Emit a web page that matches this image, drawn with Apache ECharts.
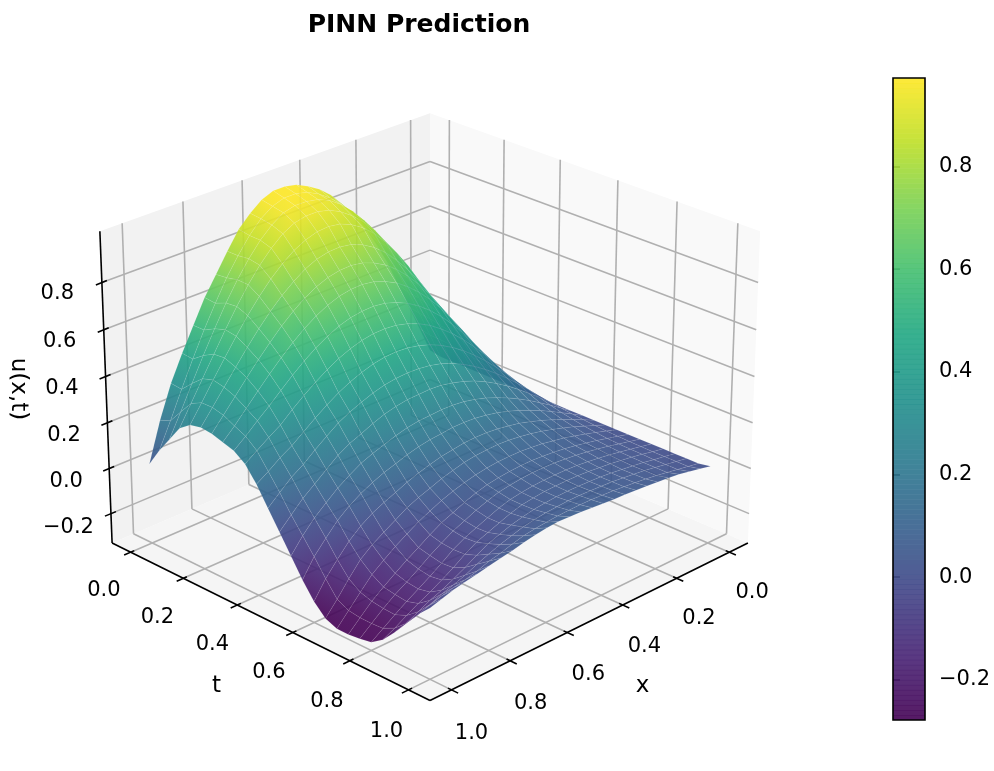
<!DOCTYPE html>
<html><head><meta charset="utf-8"><style>html,body{margin:0;background:#fff}#c{width:994px;height:771px}</style>
<script src="https://cdn.jsdelivr.net/npm/echarts@6/dist/echarts.min.js"></script></head><body><div id="c"></div>
<script>
const xValues=[0,.04,.08,.12,.16,.2,.24,.28,.32,.36,.4,.44,.48,.52,.56,.6,.64,.68,.72,.76,.8,.84,.88,.92,.96,1];
const tValues=[0,.04,.08,.12,.16,.2,.24,.28,.32,.36,.4,.44,.48,.52,.56,.6,.64,.68,.72,.76,.8,.84,.88,.92,.96,1];
const uRows=[
[.01,.13,.25,.37,.49,.59,.68,.755,.82,.877,.92,.95,.975,.985,.985,.965,.925,.875,.80,.72,.64,.54,.44,.33,.19,.02],
[0,.12,.239,.353,.463,.56,.645,.725,.795,.853,.90,.935,.96,.972,.972,.955,.92,.867,.80,.725,.635,.54,.435,.325,.209,.10],
[0,.118,.234,.346,.454,.55,.635,.715,.785,.843,.89,.925,.947,.957,.958,.945,.912,.866,.806,.735,.655,.565,.47,.37,.268,.17],
[0,.113,.224,.331,.435,.528,.612,.69,.76,.815,.86,.895,.92,.932,.932,.92,.893,.85,.797,.733,.66,.58,.496,.411,.325,.24],
[0,.106,.212,.313,.411,.502,.586,.661,.726,.782,.826,.858,.879,.887,.883,.867,.841,.803,.758,.703,.641,.573,.5,.426,.349,.275],
[0,.098,.194,.287,.377,.461,.538,.607,.667,.719,.76,.79,.81,.818,.816,.804,.781,.747,.707,.659,.605,.545,.481,.416,.35,.285],
[0,.09,.179,.265,.348,.425,.497,.561,.617,.665,.703,.731,.75,.758,.756,.745,.725,.696,.659,.616,.566,.513,.456,.397,.338,.28],
[0,.083,.164,.243,.319,.39,.456,.515,.566,.609,.645,.67,.688,.696,.694,.684,.665,.639,.606,.566,.521,.472,.42,.367,.313,.265],
[0,.074,.147,.217,.285,.349,.407,.46,.506,.545,.576,.599,.615,.622,.62,.612,.596,.572,.543,.507,.467,.423,.377,.335,.29,.25],
[0,.065,.129,.191,.252,.307,.359,.405,.445,.48,.507,.527,.54,.545,.544,.535,.519,.498,.47,.437,.401,.361,.317,.285,.25,.215],
[0,.056,.112,.166,.217,.266,.31,.35,.384,.413,.436,.452,.462,.466,.463,.454,.438,.418,.392,.361,.326,.288,.25,.22,.183,.15],
[0,.049,.097,.144,.188,.229,.267,.301,.33,.355,.374,.386,.393,.395,.392,.384,.37,.352,.331,.305,.269,.232,.191,.158,.115,.07],
[0,.041,.082,.121,.159,.194,.226,.254,.278,.297,.311,.321,.325,.323,.321,.312,.30,.281,.259,.238,.209,.17,.129,.09,.041,-.01],
[0,.034,.067,.099,.13,.158,.183,.205,.224,.239,.25,.255,.256,.253,.25,.242,.229,.212,.195,.175,.145,.112,.071,.028,-.026,-.09],
[0,.028,.055,.081,.106,.128,.149,.166,.18,.191,.198,.201,.201,.195,.19,.181,.168,.151,.135,.114,.089,.057,.017,-.036,-.093,-.17],
[0,.023,.045,.066,.086,.104,.12,.134,.144,.152,.156,.157,.154,.147,.139,.126,.111,.093,.071,.05,.026,-.007,-.049,-.105,-.165,-.24],
[0,.019,.037,.055,.071,.086,.099,.11,.118,.124,.126,.124,.121,.113,.1,.086,.067,.049,.027,-.003,-.033,-.065,-.105,-.165,-.23,-.29],
[0,.015,.03,.044,.057,.069,.078,.087,.092,.096,.096,.094,.089,.081,.069,.054,.036,.013,-.011,-.041,-.072,-.108,-.147,-.20,-.255,-.31],
[0,.013,.025,.037,.047,.057,.065,.071,.075,.078,.077,.074,.068,.06,.046,.028,.006,-.015,-.044,-.076,-.107,-.141,-.177,-.215,-.262,-.31],
[0,.011,.022,.033,.042,.051,.058,.063,.067,.068,.068,.064,.058,.05,.034,.016,-.006,-.028,-.057,-.088,-.123,-.156,-.186,-.222,-.263,-.305],
[0,.01,.02,.029,.038,.045,.051,.056,.059,.059,.058,.055,.049,.041,.026,.006,-.014,-.035,-.062,-.098,-.131,-.162,-.192,-.225,-.26,-.295],
[0,.009,.019,.028,.035,.042,.047,.052,.055,.056,.055,.053,.047,.04,.026,.007,-.012,-.031,-.06,-.094,-.124,-.152,-.177,-.205,-.235,-.26],
[0,.009,.017,.026,.033,.039,.045,.05,.052,.054,.054,.052,.048,.042,.032,.02,.003,-.014,-.041,-.07,-.096,-.12,-.14,-.165,-.19,-.205],
[0,.009,.017,.026,.034,.04,.046,.051,.054,.056,.058,.057,.054,.05,.043,.034,.02,.005,-.013,-.033,-.056,-.074,-.089,-.11,-.13,-.14],
[0,.009,.017,.026,.034,.041,.047,.052,.056,.059,.062,.062,.061,.059,.055,.05,.042,.029,.014,.003,-.015,-.028,-.038,-.05,-.065,-.08],
[.01,.02,.03,.04,.046,.05,.055,.058,.062,.064,.068,.072,.076,.078,.08,.076,.07,.06,.048,.04,.03,.02,.01,0,-.015,-.03]];
const axisTicks=[0,.2,.4,.6,.8,1];
const zTicks=[-.2,0,.2,.4,.6,.8];
const colorTicks=[-.2,0,.2,.4,.6,.8];
const uMin=-.278,uMax=.972;
const viridis=[[68,1,84],[72,36,117],[65,68,135],[53,95,141],[42,120,142],[33,145,140],[34,168,132],[68,191,112],[122,209,81],[189,223,38],[253,231,37]];
function cmap(u,al){let n=Math.max(0,Math.min(1,(u-uMin)/(uMax-uMin)))*10,i=Math.min(9,Math.floor(n)),f=n-i,a=viridis[i],b=viridis[i+1];
 return `rgba(${a.map((v,k)=>Math.round(v+(b[k]-v)*f)).join(',')},${al})`;}
// matplotlib-like 3D camera
const E=25*Math.PI/180,ce=Math.cos(E),se=Math.sin(E),S=385,CX=430,CY=390,KXY=1.04,KZ=.6636,ZC=.342;
const XL=[-.072,1.072],ZL=[-.331,1.015];
function proj(x,t,z){const a=(x-.5)*KXY,b=(t-.5)*KXY,c=(z-ZC)*KZ,h=(b-a)/Math.SQRT2,s=(a+b)/Math.SQRT2,v=-se*s+ce*c,d=ce*s+se*c,f=10/(10-d);return [CX+S*f*h,CY-S*f*v,d];}
const cells=[];
for(let j=0;j<tValues.length-1;j++)for(let i=0;i<xValues.length-1;i++){
 const m=(uRows[j][i]+uRows[j][i+1]+uRows[j+1][i]+uRows[j+1][i+1])/4;
 cells.push({i,j,d:proj((xValues[i]+xValues[i+1])/2,(tValues[j]+tValues[j+1])/2,m)[2]});}
cells.sort((p,q)=>p.d-q.d);
function surfaceItem(params,api){const c=cells[params.dataIndex],i=c.i,j=c.j;
 const cs=[[i,j],[i+1,j],[i+1,j+1],[i,j+1]].map(([a,b])=>{const p=proj(xValues[a],tValues[b],uRows[b][a]);return {p:api.coord([p[0],p[1]]),u:uRows[b][a]};});
 const pts=cs.map(o=>o.p);
 const mx=(A,B)=>[(A.p[0]+B.p[0])/2,(A.p[1]+B.p[1])/2];
 let g1=mx(cs[0],cs[3]),g2=mx(cs[1],cs[2]),u1=(cs[0].u+cs[3].u)/2,u2=(cs[1].u+cs[2].u)/2;
 let h1=mx(cs[0],cs[1]),h2=mx(cs[2],cs[3]),w1=(cs[0].u+cs[1].u)/2,w2=(cs[2].u+cs[3].u)/2;
 if(Math.abs(w2-w1)>Math.abs(u2-u1)){g1=h1;g2=h2;u1=w1;u2=w2;}
 const fill=new echarts.graphic.LinearGradient(g1[0],g1[1],g2[0],g2[1],[{offset:0,color:cmap(u1,.9)},{offset:1,color:cmap(u2,.9)}],true);
 return {type:'polygon',shape:{points:pts},style:{fill,stroke:'rgba(255,255,255,.15)',lineWidth:.5}};
}
function line3(api,a,b,stroke,w){const p=proj(...a),q=proj(...b),P=api.coord([p[0],p[1]]),Q=api.coord([q[0],q[1]]);return {type:'line',shape:{x1:P[0],y1:P[1],x2:Q[0],y2:Q[1]},style:{stroke,lineWidth:w}};}
function poly3(api,list,fill){return {type:'polygon',shape:{points:list.map(a=>{const p=proj(...a);return api.coord([p[0],p[1]]);})},style:{fill}};}
function boxBack(params,api){const [a,b]=XL,[z0,z1]=ZL,ch=[];
 ch.push(poly3(api,[[a,a,z0],[a,b,z0],[b,b,z0],[b,a,z0]],'#f5f5f5'));
 ch.push(poly3(api,[[a,a,z0],[a,b,z0],[a,b,z1],[a,a,z1]],'#f9f9f9'));
 ch.push(poly3(api,[[a,a,z0],[b,a,z0],[b,a,z1],[a,a,z1]],'#f2f2f2'));
 const G='#b0b0b0',W=1.6;
 axisTicks.forEach(v=>{
  ch.push(line3(api,[v,b,z0],[v,a,z0],G,W));ch.push(line3(api,[v,a,z0],[v,a,z1],G,W));
  ch.push(line3(api,[b,v,z0],[a,v,z0],G,W));ch.push(line3(api,[a,v,z0],[a,v,z1],G,W));});
 zTicks.forEach(v=>{ch.push(line3(api,[b,a,v],[a,a,v],G,W));ch.push(line3(api,[a,a,v],[a,b,v],G,W));});
 return {type:'group',children:ch};}
function txt(api,pos,text,rotation,size){const P=api.coord(pos);return {type:'text',x:P[0],y:P[1],rotation:rotation||0,style:{text,fill:'#000',fontFamily:'DejaVu Sans',fontSize:size||21,align:'center',verticalAlign:'middle'}};}
function fmt(v){return (v<0?'\u2212':'')+Math.abs(v).toFixed(1);}
function boxFront(params,api){const [a,b]=XL,[z0,z1]=ZL,ch=[],K='#000',W=1.6;
 ch.push(line3(api,[a,b,z0],[b,b,z0],K,W));ch.push(line3(api,[b,b,z0],[b,a,z0],K,W));ch.push(line3(api,[b,a,z0],[b,a,z1],K,W));
 axisTicks.forEach(v=>{
  ch.push(line3(api,[v,b-.012,z0],[v,b+.022,z0],K,W));
  ch.push(line3(api,[b-.012,v,z0],[b+.022,v,z0],K,W));
  const p=proj(v,b+.08,z0-.133),q=proj(b+.07,v,z0-.133);
  ch.push(txt(api,[p[0]-4*v,p[1]],v.toFixed(1)));ch.push(txt(api,[q[0]-7+6*v,q[1]],v.toFixed(1)));});
 zTicks.forEach(v=>{const e=proj(b,a,v),A=api.coord([e[0]-6,e[1]+2.5]),B=api.coord([e[0]+5,e[1]-2]);
  ch.push({type:'line',shape:{x1:A[0],y1:A[1],x2:B[0],y2:B[1]},style:{stroke:K,lineWidth:W}});
  const p=proj(b+.13,a-.13,v);ch.push(txt(api,[p[0]+30,p[1]+13.4-3*v],fmt(v)));});
 let p=proj(.5,b+.17,z0-.186);ch.push(txt(api,[p[0]-3,p[1]+1],'x',0,23));
 p=proj(b+.16,.5,z0-.186);ch.push(txt(api,[p[0]-1,p[1]+2],'t',0,23));
 ch.push(txt(api,[18,389],'u(x,t)',-Math.PI/2,23));
 return {type:'group',children:ch};}
const levels=[];for(let k=0;k<128;k++)levels.push(uMin+(uMax-uMin)*k/128);
const chart=echarts.init(document.getElementById('c'),null,{renderer:'canvas'});
chart.setOption({animation:false,
 title:{text:'PINN Prediction',left:414,top:8,textAlign:'center',textStyle:{fontFamily:'DejaVu Sans',fontWeight:'bold',fontSize:25,color:'#000'}},
 grid:[{left:0,top:0,width:994,height:771,show:false},{left:893,top:78,width:32,height:642,show:true,borderColor:'#000',borderWidth:1.6,z:5}],
 xAxis:[{type:'value',min:0,max:994,show:false,gridIndex:0},{type:'value',min:0,max:1,show:false,gridIndex:1}],
 yAxis:[{type:'value',min:0,max:771,inverse:true,show:false,gridIndex:0},
  {type:'value',min:uMin,max:uMax,position:'right',gridIndex:1,splitLine:{show:false},axisLine:{show:false},
   axisTick:{show:true,length:7,lineStyle:{color:'#000',width:1.5},customValues:colorTicks},
   axisLabel:{show:true,fontFamily:'DejaVu Sans',fontSize:21,color:'#000',margin:14,customValues:colorTicks,formatter:v=>fmt(v)}}],
 series:[
  {type:'custom',coordinateSystem:'cartesian2d',xAxisIndex:0,yAxisIndex:0,silent:true,z:1,data:[[0,0]],renderItem:boxBack,clip:false},
  {type:'custom',coordinateSystem:'cartesian2d',xAxisIndex:0,yAxisIndex:0,silent:true,z:2,data:cells.map((c,k)=>[k,0]),renderItem:surfaceItem,progressive:0,clip:false},
  {type:'custom',coordinateSystem:'cartesian2d',xAxisIndex:0,yAxisIndex:0,silent:true,z:3,data:[[0,0]],renderItem:boxFront,clip:false},
  {type:'custom',coordinateSystem:'cartesian2d',xAxisIndex:1,yAxisIndex:1,silent:true,z:2,data:levels.map(v=>[0,v]),progressive:0,clip:true,
   renderItem(params,api){const u=api.value(1),h=(uMax-uMin)/128,A=api.coord([0,u+h]),B=api.coord([1,u]);
    return {type:'rect',shape:{x:A[0],y:A[1],width:B[0]-A[0],height:B[1]-A[1]+.4},style:{fill:cmap(u+h/2,.9)}};}}
 ]});
</script></body></html>
